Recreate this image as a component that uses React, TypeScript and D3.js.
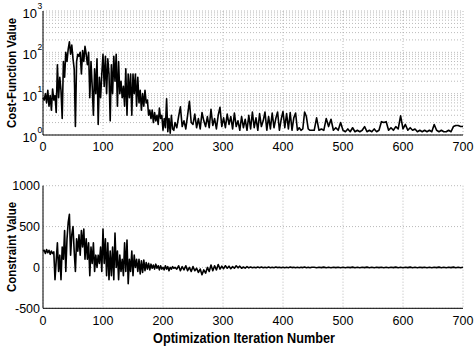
import React from 'react';
import * as d3 from 'd3';

const W = 474;
const H = 351;

// Iteration numbers (categories): every 2 up to 220, every 3 up to 448, every 4 after
const iterDense = d3.range(0, 221, 2);
const iterMid = d3.range(223, 449, 3);
const iterSparse = d3.range(452, 701, 4);
const iterations = [...iterDense, ...iterMid, ...iterSparse];

const costValues = [
  8, 7, 10, 6, 12, 5, 9, 4, 13, 7,
  9, 3.5, 50, 8, 25, 12, 2.5, 60, 25, 100,
  60, 120, 180, 90, 150, 70, 40, 1.6, 60, 90,
  80, 100, 30, 110, 60, 140, 90, 50, 100, 8,
  60, 15, 3, 40, 10, 70, 1.8, 25, 8, 30,
  90, 15, 80, 10, 70, 30, 2.2, 50, 10, 80,
  20, 90, 5, 60, 10, 20, 8, 15, 5, 40,
  3, 30, 8, 30, 3, 30, 10, 30, 5, 25,
  6, 12, 4, 10, 5, 12, 6, 7, 3, 4,
  2.5, 4, 2, 3.5, 2.2, 3, 1.8, 4.5, 2.5, 3,
  1.3, 2.5, 1.5, 7.5, 1.2, 2.5, 1.1, 3, 1.4, 1.3,
  2,
  // 223..448 step 3
  1.5, 2.8, 4.8, 1.6, 2.2, 1.4, 3, 6.5, 2, 1.8,
  3.2, 1.5, 2.5, 1.4, 3.5, 2.2, 1.6, 2.8, 1.5, 4.2,
  1.7, 2.5, 1.4, 3, 4.7, 1.6, 2.6, 1.5, 3.2, 1.8,
  2.8, 1.4, 3.4, 1.6, 2.2, 1.3, 2.8, 1.5, 2.4, 1.3,
  3, 1.4, 3.6, 1.5, 2.6, 1.3, 3.3, 1.6, 2.2, 3.6,
  1.3, 2.8, 1.4, 3.4, 1.5, 2.5, 3.6, 1.3, 2.4, 3.7,
  1.5, 3.3, 1.4, 3.5, 1.3, 2.6, 3.4, 1.3, 1.5, 1.3,
  1.4, 3.6, 2.8, 1.4, 1.3, 1.3,
  // 452..700 step 4
  1.3, 2.6, 1.3, 1.4, 1.3, 2.5, 1.6, 2.4, 1.3, 1.5,
  1.3, 2, 1.3, 1.2, 1.4, 1.2, 1.5, 1.2, 1.3, 1.2,
  1.3, 1.6, 1.2, 1.3, 1.2, 1.4, 1.2, 1.3, 2.1, 2,
  2.1, 1.3, 1.5, 1.3, 1.6, 1.4, 2.9, 1.4, 1.8, 1.3,
  1.5, 1.3, 1.4, 1.2, 1.3, 1.2, 1.3, 1.2, 1.3, 1.2,
  1.8, 1.3, 1.2, 1.3, 1.2, 1.2, 1.3, 1.2, 1.6, 1.7,
  1.7, 1.6, 1.6,
];

const constraintValues = [
  200, 210, 170, 220, 180, 210, 160, 200, 170, 190,
  -150, 80, 300, -50, 150, -150, 250, 100, 450, -50,
  350, 550, 650, 150, 400, 500, 200, -50, 350, 200,
  400, 150, 450, 250, 470, 100, 350, 100, 300, -100,
  250, 50, 300, -50, 150, 0, 150, 50, 250, -50,
  470, 50, 350, -100, 300, -150, 200, -100, 250, -150,
  420, 0, 200, -150, 150, -50, 100, -100, 300, -50,
  335, -200, 100, -50, 200, -100, 150, 0, 100, -50,
  100, -80, 80, -60, 90, -40, 60, -20, 50, -30,
  40, -10, 30, -20, 40, -10, 20, -30, 20, -20,
  0, -30, 20, -20, 10, -40, 0, -20, 10, -10,
  0,
  // 223..448 step 3
  -20, 20, -40, 10, -30, 20, -40, 0, -50, 10,
  -40, -10, -60, -20, -90, -30, -70, 0, -50, 30,
  -40, 20, -30, 35, -20, 15, -15, 20, -10, 15,
  -15, 10, -10, 20, -5, 15, -10, 5, -8, 10,
  -5, 5, -4, 3, -5, 4, -3, 5, -4, 3,
  -3, 4, -4, 2, -3, 4, -2, 3, -4, 3,
  -3, 2, -3, 4, -2, 3, -4, 2, -3, 3,
  -2, 4, -3, 2, -3, 3,
  // 452..700 step 4
  2, -3, 3, -2, 4, -3, 2, -4, 3, -2,
  3, -3, 2, -4, 3, -2, 4, -3, 2, -3,
  3, -2, 4, -3, 2, -4, 3, -2, 3, -3,
  2, -4, 3, -2, 4, -3, 2, -3, 3, -2,
  4, -3, 2, -4, 3, -2, 3, -3, 2, -4,
  3, -2, 4, -3, 2, -3, 3, -2, 4, -3,
  2, -3, 3,
];

const xTicks = [0, 100, 200, 300, 400, 500, 600, 700];
const costTickExps = [0, 1, 2, 3];
const constraintTicks = [-500, 0, 500, 1000];

const FONT = '"Liberation Sans", Arial, Helvetica, sans-serif';

export default function App() {
  const left = 43;
  const right = 463;
  const x = d3.scaleLinear().domain([0, 700]).range([left, right]);
  const yTop = d3.scaleLog().domain([1, 1000]).range([135, 11]);
  const yBot = d3.scaleLinear().domain([-500, 1000]).range([308.3, 185.7]);

  const costLine = d3
    .line<number>()
    .x((_, i) => x(iterations[i]))
    .y((d) => yTop(d));
  const consLine = d3
    .line<number>()
    .x((_, i) => x(iterations[i]))
    .y((d) => yBot(d));

  const minorLog: number[] = [];
  for (let e = 0; e < 3; e++) {
    for (let k = 2; k <= 9; k++) minorLog.push(k * Math.pow(10, e));
  }

  const gridStyle = { stroke: '#a8a8a8', strokeWidth: 0.8, strokeDasharray: '1,2' };

  return (
    <svg
      width={W}
      height={H}
      style={{ position: 'absolute', left: 0, top: 0, background: '#fff' }}
      fontFamily={FONT}
    >
      <rect x={0} y={0} width={W} height={H} fill="#fff" />
      {/* ---------- Top panel ---------- */}
      <g>
        {minorLog.map((v) => (
          <line key={'m' + v} x1={left} x2={right} y1={yTop(v)} y2={yTop(v)} {...gridStyle} />
        ))}
        {costTickExps.map((e) => (
          <line key={'M' + e} x1={left} x2={right} y1={yTop(Math.pow(10, e))} y2={yTop(Math.pow(10, e))} {...gridStyle} />
        ))}
        {xTicks.map((t) => (
          <line key={'v' + t} x1={x(t)} x2={x(t)} y1={yTop(1000)} y2={yTop(1)} {...gridStyle} />
        ))}
        <path d={costLine(costValues) || ''} fill="none" stroke="#000" strokeWidth={1.6} strokeLinejoin="round" />
        <line x1={left} x2={left} y1={yTop(1000)} y2={yTop(1)} stroke="#000" strokeWidth={1} />
        <line x1={left} x2={right} y1={yTop(1)} y2={yTop(1)} stroke="#000" strokeWidth={1} />
        {xTicks.map((t) => (
          <text key={'xt' + t} x={x(t)} y={151} fontSize={12.5} textAnchor="middle" fill="#000">
            {t}
          </text>
        ))}
        {costTickExps.map((e) => (
          <g key={'yt' + e}>
            <text x={37} y={yTop(Math.pow(10, e)) + 7} fontSize={13} textAnchor="end" fill="#000">
              10
            </text>
            <text x={37.5} y={yTop(Math.pow(10, e)) - 2} fontSize={8.5} textAnchor="start" fill="#000">
              {e}
            </text>
          </g>
        ))}
        <text
          transform={`translate(16,${(yTop(1) + yTop(1000)) / 2}) rotate(-90)`}
          fontSize={13}
          fontWeight="bold"
          textAnchor="middle"
          textLength={110}
          lengthAdjust="spacingAndGlyphs"
          fill="#000"
        >
          Cost-Function Value
        </text>
      </g>

      {/* ---------- Bottom panel ---------- */}
      <g>
        {constraintTicks.map((t) => (
          <line key={'h' + t} x1={left} x2={right} y1={yBot(t)} y2={yBot(t)} {...gridStyle} />
        ))}
        {xTicks.map((t) => (
          <line key={'bv' + t} x1={x(t)} x2={x(t)} y1={yBot(1000)} y2={yBot(-500)} {...gridStyle} />
        ))}
        <path d={consLine(constraintValues) || ''} fill="none" stroke="#000" strokeWidth={1.6} strokeLinejoin="round" />
        <line x1={left} x2={left} y1={yBot(1000)} y2={yBot(-500)} stroke="#000" strokeWidth={1} />
        <line x1={left} x2={right} y1={yBot(-500)} y2={yBot(-500)} stroke="#000" strokeWidth={1} />
        {xTicks.map((t) => (
          <text key={'bxt' + t} x={x(t)} y={325} fontSize={12.5} textAnchor="middle" fill="#000">
            {t}
          </text>
        ))}
        {constraintTicks.map((t) => (
          <text key={'byt' + t} x={40} y={yBot(t) + 4.5} fontSize={12.5} textAnchor="end" fill="#000">
            {t}
          </text>
        ))}
        <text
          transform={`translate(16,${(yBot(1000) + yBot(-500)) / 2}) rotate(-90)`}
          fontSize={13}
          fontWeight="bold"
          textAnchor="middle"
          textLength={90}
          lengthAdjust="spacingAndGlyphs"
          fill="#000"
        >
          Constraint Value
        </text>
        <text
          x={244}
          y={343}
          fontSize={15}
          fontWeight="bold"
          textAnchor="middle"
          textLength={182}
          lengthAdjust="spacingAndGlyphs"
          fill="#000"
        >
          Optimization Iteration Number
        </text>
      </g>
    </svg>
  );
}
